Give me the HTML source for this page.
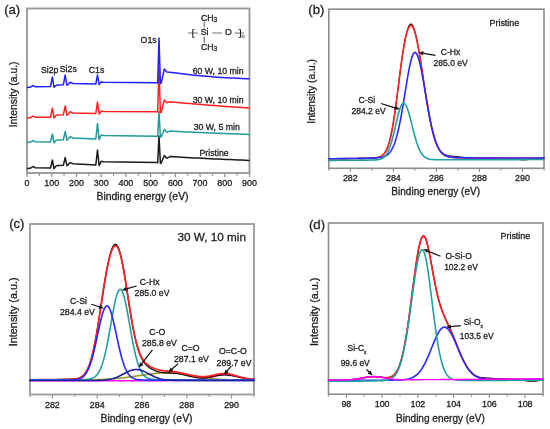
<!DOCTYPE html>
<html><head><meta charset="utf-8"><style>
html,body{margin:0;padding:0;background:#fff;width:550px;height:429px;overflow:hidden}
svg{display:block;will-change:transform}
text{font-family:"Liberation Sans", sans-serif}
</style></head><body>
<svg width="550" height="429" viewBox="0 0 550 429">
<rect width="550" height="429" fill="#fff"/>
<rect x="27" y="8.5" width="222.5" height="164.5" fill="none" stroke="#9a9a9a" stroke-width="1.9"/>
<path d="M27 174 V177" stroke="#8a8a8a" stroke-width="1.2"/>
<path d="M51.72 174 V177" stroke="#8a8a8a" stroke-width="1.2"/>
<path d="M76.44 174 V177" stroke="#8a8a8a" stroke-width="1.2"/>
<path d="M101.17 174 V177" stroke="#8a8a8a" stroke-width="1.2"/>
<path d="M125.89 174 V177" stroke="#8a8a8a" stroke-width="1.2"/>
<path d="M150.61 174 V177" stroke="#8a8a8a" stroke-width="1.2"/>
<path d="M175.33 174 V177" stroke="#8a8a8a" stroke-width="1.2"/>
<path d="M200.06 174 V177" stroke="#8a8a8a" stroke-width="1.2"/>
<path d="M224.78 174 V177" stroke="#8a8a8a" stroke-width="1.2"/>
<path d="M249.5 174 V177" stroke="#8a8a8a" stroke-width="1.2"/>
<path d="M39.36 174 V175.8" stroke="#8a8a8a" stroke-width="1.2"/>
<path d="M64.08 174 V175.8" stroke="#8a8a8a" stroke-width="1.2"/>
<path d="M88.81 174 V175.8" stroke="#8a8a8a" stroke-width="1.2"/>
<path d="M113.53 174 V175.8" stroke="#8a8a8a" stroke-width="1.2"/>
<path d="M138.25 174 V175.8" stroke="#8a8a8a" stroke-width="1.2"/>
<path d="M162.97 174 V175.8" stroke="#8a8a8a" stroke-width="1.2"/>
<path d="M187.69 174 V175.8" stroke="#8a8a8a" stroke-width="1.2"/>
<path d="M212.42 174 V175.8" stroke="#8a8a8a" stroke-width="1.2"/>
<path d="M237.14 174 V175.8" stroke="#8a8a8a" stroke-width="1.2"/>
<text x="27" y="186.3" font-size="8.92" text-anchor="middle" fill="#1e1e1e" stroke="#1e1e1e" stroke-width="0.3">0</text>
<text x="51.72" y="186.3" font-size="8.92" text-anchor="middle" fill="#1e1e1e" stroke="#1e1e1e" stroke-width="0.3">100</text>
<text x="76.44" y="186.3" font-size="8.92" text-anchor="middle" fill="#1e1e1e" stroke="#1e1e1e" stroke-width="0.3">200</text>
<text x="101.17" y="186.3" font-size="8.92" text-anchor="middle" fill="#1e1e1e" stroke="#1e1e1e" stroke-width="0.3">300</text>
<text x="125.89" y="186.3" font-size="8.92" text-anchor="middle" fill="#1e1e1e" stroke="#1e1e1e" stroke-width="0.3">400</text>
<text x="150.61" y="186.3" font-size="8.92" text-anchor="middle" fill="#1e1e1e" stroke="#1e1e1e" stroke-width="0.3">500</text>
<text x="175.33" y="186.3" font-size="8.92" text-anchor="middle" fill="#1e1e1e" stroke="#1e1e1e" stroke-width="0.3">600</text>
<text x="200.06" y="186.3" font-size="8.92" text-anchor="middle" fill="#1e1e1e" stroke="#1e1e1e" stroke-width="0.3">700</text>
<text x="224.78" y="186.3" font-size="8.92" text-anchor="middle" fill="#1e1e1e" stroke="#1e1e1e" stroke-width="0.3">800</text>
<text x="249.5" y="186.3" font-size="8.92" text-anchor="middle" fill="#1e1e1e" stroke="#1e1e1e" stroke-width="0.3">900</text>
<text x="142.5" y="199.5" font-size="10.43" text-anchor="middle" fill="#1e1e1e" stroke="#1e1e1e" stroke-width="0.3">Binding energy (eV)</text>
<text transform="translate(16.6 94.4) rotate(-90)" font-size="10.4" text-anchor="middle" fill="#1e1e1e" stroke="#1e1e1e" stroke-width="0.3">Intensity (a.u.)</text>
<text x="4.2" y="14" font-size="13.09" text-anchor="start" fill="#1e1e1e" stroke="#1e1e1e" stroke-width="0.3">(a)</text>
<path d="M27.5 168.5 L31 167.9 L33 166.5 L35 167.7 L50.5 168 L52.4 160 L54 168.8 L55.8 166.1 L57.5 165.5 L63.4 165.2 L65.2 157.5 L66.9 165.7 L68.3 164.6 L70.2 162.6 L73 163.8 L95.8 165 L97.5 150 L99.1 165.6 L101.2 161.3 L103.5 161.7 L156.8 162.5 L157.7 162.7 L159 136 L160.4 163.4 L161.2 163 L164.3 155.5 L166.8 158.3 L170 156.6 L174 156.83 L178 157.06 L182 157.28 L186 157.5 L190 157.71 L194 157.92 L198 158.12 L202 158.32 L206 158.52 L210 158.71 L214 158.9 L218 159.08 L222 159.27 L226 159.44 L230 159.62 L234 159.79 L238 159.96 L242 160.12 L246 160.28 L249 160.4" fill="none" stroke="#1a1a1a" stroke-width="1.5" stroke-linejoin="round" stroke-linecap="round"/>
<path d="M27.5 142.5 L31 141.9 L33 140.5 L35 141.7 L50.5 142 L52.4 134 L54 142.8 L55.8 140.6 L57.5 140 L63.4 139.7 L65.2 131.5 L66.9 140.2 L68.3 138.8 L70.2 136.8 L73 138 L95.8 139 L97.5 123.5 L99.1 139.6 L101.2 135.1 L103.5 135.5 L156.8 136.3 L157.7 136.5 L159 111 L160.4 137.2 L161.2 136.8 L164.3 129.5 L166.8 132.3 L170 131.1 L174 131.3 L178 131.5 L182 131.69 L186 131.88 L190 132.06 L194 132.24 L198 132.42 L202 132.6 L206 132.77 L210 132.93 L214 133.1 L218 133.26 L222 133.42 L226 133.57 L230 133.72 L234 133.87 L238 134.01 L242 134.16 L246 134.3 L249 134.4" fill="none" stroke="#1f9a9a" stroke-width="1.5" stroke-linejoin="round" stroke-linecap="round"/>
<path d="M27.5 118 L31 117.4 L33 116 L35 117.2 L50.5 117.2 L52.4 108.2 L54 118 L55.8 115.6 L57.5 115 L63.4 114.7 L65.2 106 L66.9 115.2 L68.3 113.8 L70.2 111.8 L73 113 L95.8 113.5 L97.5 102 L99.1 114.1 L101.2 111.1 L103.5 111.5 L156.8 111.8 L157.7 112 L159 67.8 L160.4 112.7 L161.2 112.3 L164.3 99.9 L166.8 102.7 L170 101.8 L174 102.18 L178 102.54 L182 102.91 L186 103.26 L190 103.61 L194 103.95 L198 104.28 L202 104.61 L206 104.93 L210 105.24 L214 105.55 L218 105.85 L222 106.15 L226 106.44 L230 106.72 L234 107 L238 107.28 L242 107.54 L246 107.81 L249 108" fill="none" stroke="#ff2020" stroke-width="1.5" stroke-linejoin="round" stroke-linecap="round"/>
<path d="M27.5 87.5 L31 86.9 L33 85.5 L35 86.7 L50.5 86.5 L52.4 77 L54 87.3 L55.8 85.6 L57.5 85 L63.4 84.7 L65.2 75 L66.9 85.2 L68.3 84.3 L70.2 82.3 L73 83.5 L95.8 84 L97.5 75 L99.1 84.6 L101.2 81.9 L103.5 82.3 L156.8 82.7 L157.7 82.9 L159 38 L160.4 83.6 L161.2 83.2 L164.3 69.1 L166.8 71.9 L170 72.2 L174 72.78 L178 73.33 L182 73.83 L186 74.31 L190 74.76 L194 75.17 L198 75.56 L202 75.93 L206 76.27 L210 76.59 L214 76.89 L218 77.17 L222 77.43 L226 77.67 L230 77.9 L234 78.11 L238 78.31 L242 78.5 L246 78.68 L249 78.8" fill="none" stroke="#2020ff" stroke-width="1.5" stroke-linejoin="round" stroke-linecap="round"/>
<text x="41" y="72.8" font-size="8.73" text-anchor="start" fill="#1e1e1e" stroke="#1e1e1e" stroke-width="0.3">Si2p</text>
<text x="59.8" y="71.5" font-size="8.73" text-anchor="start" fill="#1e1e1e" stroke="#1e1e1e" stroke-width="0.3">Si2s</text>
<text x="88.8" y="73" font-size="8.73" text-anchor="start" fill="#1e1e1e" stroke="#1e1e1e" stroke-width="0.3">C1s</text>
<text x="140.6" y="43" font-size="8.73" text-anchor="start" fill="#1e1e1e" stroke="#1e1e1e" stroke-width="0.3">O1s</text>
<text x="243.6" y="73.7" font-size="8.73" text-anchor="end" fill="#1e1e1e" stroke="#1e1e1e" stroke-width="0.3">60 W, 10 min</text>
<text x="243.6" y="102.9" font-size="8.73" text-anchor="end" fill="#1e1e1e" stroke="#1e1e1e" stroke-width="0.3">30 W, 10 min</text>
<text x="239.8" y="130" font-size="8.73" text-anchor="end" fill="#1e1e1e" stroke="#1e1e1e" stroke-width="0.3">30 W, 5 min</text>
<text x="228.6" y="156.4" font-size="8.73" text-anchor="end" fill="#1e1e1e" stroke="#1e1e1e" stroke-width="0.3">Pristine</text>
<text x="201" y="20.8" font-size="8.73" text-anchor="start" fill="#1e1e1e" stroke="#1e1e1e" stroke-width="0.3">CH<tspan font-size="6.5" dy="1.6">3</tspan></text>
<text x="200.8" y="35.3" font-size="8.73" text-anchor="start" fill="#1e1e1e" stroke="#1e1e1e" stroke-width="0.3">Si</text>
<text x="224.9" y="35.4" font-size="8.73" text-anchor="start" fill="#1e1e1e" stroke="#1e1e1e" stroke-width="0.3">O</text>
<text x="201" y="49.6" font-size="8.73" text-anchor="start" fill="#1e1e1e" stroke="#1e1e1e" stroke-width="0.3">CH<tspan font-size="6.5" dy="1.6">3</tspan></text>
<path d="M204.2 21.8 V27.6 M204.2 36.8 V42.8 M212.3 33 H221.9 M188 33 H197.8 M234.7 33 H244" stroke="#707070" stroke-width="1.2" fill="none"/>
<path d="M194.4 29.6 H192.7 V37.4 H194.4 M238.8 29.6 H240.5 V37.4 H238.8" stroke="#222" stroke-width="1.0" fill="none"/>
<text x="241.6" y="37.6" font-size="5.63" text-anchor="start" fill="#777" stroke="#777" stroke-width="0.3">n</text>
<rect x="328.8" y="9.2" width="215.2" height="159.1" fill="none" stroke="#8c8c8c" stroke-width="1.6"/>
<path d="M350.32 168.8 V171.8" stroke="#8a8a8a" stroke-width="1.1"/>
<path d="M393.36 168.8 V171.8" stroke="#8a8a8a" stroke-width="1.1"/>
<path d="M436.4 168.8 V171.8" stroke="#8a8a8a" stroke-width="1.1"/>
<path d="M479.44 168.8 V171.8" stroke="#8a8a8a" stroke-width="1.1"/>
<path d="M522.48 168.8 V171.8" stroke="#8a8a8a" stroke-width="1.1"/>
<path d="M328.8 168.8 V170.6" stroke="#8a8a8a" stroke-width="1.1"/>
<path d="M371.84 168.8 V170.6" stroke="#8a8a8a" stroke-width="1.1"/>
<path d="M414.88 168.8 V170.6" stroke="#8a8a8a" stroke-width="1.1"/>
<path d="M457.92 168.8 V170.6" stroke="#8a8a8a" stroke-width="1.1"/>
<path d="M500.96 168.8 V170.6" stroke="#8a8a8a" stroke-width="1.1"/>
<path d="M544 168.8 V170.6" stroke="#8a8a8a" stroke-width="1.1"/>
<text x="350.32" y="180.5" font-size="8.92" text-anchor="middle" fill="#1e1e1e" stroke="#1e1e1e" stroke-width="0.3">282</text>
<text x="393.36" y="180.5" font-size="8.92" text-anchor="middle" fill="#1e1e1e" stroke="#1e1e1e" stroke-width="0.3">284</text>
<text x="436.4" y="180.5" font-size="8.92" text-anchor="middle" fill="#1e1e1e" stroke="#1e1e1e" stroke-width="0.3">286</text>
<text x="479.44" y="180.5" font-size="8.92" text-anchor="middle" fill="#1e1e1e" stroke="#1e1e1e" stroke-width="0.3">288</text>
<text x="522.48" y="180.5" font-size="8.92" text-anchor="middle" fill="#1e1e1e" stroke="#1e1e1e" stroke-width="0.3">290</text>
<text x="435.7" y="194.5" font-size="10.04" text-anchor="middle" fill="#1e1e1e" stroke="#1e1e1e" stroke-width="0.3">Binding energy (eV)</text>
<text transform="translate(315.4 91.4) rotate(-90)" font-size="10.2" text-anchor="middle" fill="#1e1e1e" stroke="#1e1e1e" stroke-width="0.3">Intensity (a.u.)</text>
<text x="308.3" y="13.8" font-size="13.09" text-anchor="start" fill="#1e1e1e" stroke="#1e1e1e" stroke-width="0.3">(b)</text>
<path d="M328.8 158.81 L329.8 158.8 L330.8 158.79 L331.8 158.78 L332.8 158.77 L333.8 158.76 L334.8 158.75 L335.8 158.74 L336.8 158.73 L337.8 158.72 L338.8 158.71 L339.8 158.7 L340.8 158.69 L341.8 158.68 L342.8 158.67 L343.8 158.66 L344.8 158.64 L345.8 158.63 L346.8 158.62 L347.8 158.6 L348.8 158.59 L349.8 158.58 L350.8 158.56 L351.8 158.55 L352.8 158.53 L353.8 158.51 L354.8 158.5 L355.8 158.48 L356.8 158.46 L357.8 158.44 L358.8 158.42 L359.8 158.4 L360.8 158.38 L361.8 158.36 L362.8 158.33 L363.8 158.31 L364.8 158.28 L365.8 158.25 L366.8 158.22 L367.8 158.19 L368.8 158.15 L369.8 158.12 L370.8 158.07 L371.8 158.02 L372.8 157.96 L373.8 157.89 L374.8 157.81 L375.8 157.7 L376.8 157.56 L377.8 157.37 L378.8 157.12 L379.8 156.79 L380.8 156.36 L381.8 155.78 L382.8 155.02 L383.8 154.04 L384.8 152.78 L385.8 151.19 L386.8 149.19 L387.8 146.74 L388.8 143.76 L389.8 140.2 L390.8 136.03 L391.8 131.22 L392.8 125.76 L393.8 119.68 L394.8 113.02 L395.8 105.85 L396.8 98.3 L397.8 90.47 L398.8 82.53 L399.8 74.63 L400.8 66.94 L401.8 59.62 L402.8 52.8 L403.8 46.61 L404.8 41.04 L405.8 36.13 L406.8 31.96 L407.8 28.59 L408.8 26.09 L409.8 24.51 L410.8 23.9 L411.8 24.26 L412.8 25.59 L413.8 27.85 L414.8 30.99 L415.8 34.91 L416.8 39.47 L417.8 44.59 L418.8 50.17 L419.8 56.12 L420.8 62.38 L421.8 68.84 L422.8 75.43 L423.8 82.06 L424.8 88.65 L425.8 95.12 L426.8 101.39 L427.8 107.41 L428.8 113.12 L429.8 118.48 L430.8 123.44 L431.8 128 L432.8 132.14 L433.8 135.85 L434.8 139.14 L435.8 142.03 L436.8 144.55 L437.8 146.7 L438.8 148.53 L439.8 150.07 L440.8 151.35 L441.8 152.39 L442.8 153.24 L443.8 153.92 L444.8 154.46 L445.8 154.89 L446.8 155.22 L447.8 155.48 L448.8 155.69 L449.8 155.85 L450.8 155.99 L451.8 156.11 L452.8 156.22 L453.8 156.32 L454.8 156.42 L455.8 156.53 L456.8 156.63 L457.8 156.74 L458.8 156.84 L459.8 156.95 L460.8 157.06 L461.8 157.16 L462.8 157.26 L463.8 157.36 L464.8 157.45 L465.8 157.53 L466.8 157.6 L467.8 157.67 L468.8 157.73 L469.8 157.78 L470.8 157.83 L471.8 157.87 L472.8 157.9 L473.8 157.93 L474.8 157.95 L475.8 157.97 L476.8 157.99 L477.8 158 L478.8 158.01 L479.8 158.02 L480.8 158.03 L481.8 158.04 L482.8 158.05 L483.8 158.05 L484.8 158.06 L485.8 158.06 L486.8 158.06 L487.8 158.07 L488.8 158.07 L489.8 158.07 L490.8 158.08 L491.8 158.08 L492.8 158.08 L493.8 158.08 L494.8 158.08 L495.8 158.08 L496.8 158.08 L497.8 158.09 L498.8 158.09 L499.8 158.09 L500.8 158.09 L501.8 158.1 L502.8 158.1 L503.8 158.11 L504.8 158.13 L505.8 158.15 L506.8 158.17 L507.8 158.21 L508.8 158.25 L509.8 158.31 L510.8 158.39 L511.8 158.47 L512.8 158.58 L513.8 158.7 L514.8 158.84 L515.8 158.98 L516.8 159.13 L517.8 159.29 L518.8 159.44 L519.8 159.57 L520.8 159.69 L521.8 159.78 L522.8 159.84 L523.8 159.86 L524.8 159.85 L525.8 159.8 L526.8 159.72 L527.8 159.61 L528.8 159.47 L529.8 159.33 L530.8 159.17 L531.8 159.01 L532.8 158.86 L533.8 158.71 L534.8 158.58 L535.8 158.47 L536.8 158.37 L537.8 158.29 L538.8 158.22 L539.8 158.16 L540.8 158.12 L541.8 158.09 L542.8 158.06 L543.8 158.05 L544 158.04" fill="none" stroke="#111" stroke-width="1.1" stroke-linejoin="round" stroke-linecap="round"/>
<path d="M328.8 158.81 L329.8 158.8 L330.8 158.79 L331.8 158.78 L332.8 158.77 L333.8 158.76 L334.8 158.75 L335.8 158.74 L336.8 158.73 L337.8 158.72 L338.8 158.71 L339.8 158.7 L340.8 158.69 L341.8 158.68 L342.8 158.67 L343.8 158.66 L344.8 158.64 L345.8 158.63 L346.8 158.62 L347.8 158.6 L348.8 158.59 L349.8 158.58 L350.8 158.56 L351.8 158.55 L352.8 158.53 L353.8 158.51 L354.8 158.5 L355.8 158.48 L356.8 158.46 L357.8 158.44 L358.8 158.42 L359.8 158.4 L360.8 158.38 L361.8 158.36 L362.8 158.33 L363.8 158.31 L364.8 158.28 L365.8 158.25 L366.8 158.22 L367.8 158.19 L368.8 158.15 L369.8 158.12 L370.8 158.07 L371.8 158.02 L372.8 157.96 L373.8 157.89 L374.8 157.81 L375.8 157.7 L376.8 157.56 L377.8 157.37 L378.8 157.12 L379.8 156.79 L380.8 156.36 L381.8 155.78 L382.8 155.02 L383.8 154.04 L384.8 152.78 L385.8 151.19 L386.8 149.19 L387.8 146.74 L388.8 143.76 L389.8 140.2 L390.8 136.03 L391.8 131.22 L392.8 125.76 L393.8 119.68 L394.8 113.02 L395.8 105.86 L396.8 98.3 L397.8 90.48 L398.8 82.55 L399.8 74.67 L400.8 67.01 L401.8 59.73 L402.8 53 L403.8 46.93 L404.8 41.52 L405.8 36.82 L406.8 32.88 L407.8 29.75 L408.8 27.47 L409.8 26.04 L410.8 25.49 L411.8 25.82 L412.8 27.03 L413.8 29.1 L414.8 32.01 L415.8 35.69 L416.8 40.03 L417.8 44.96 L418.8 50.41 L419.8 56.27 L420.8 62.46 L421.8 68.89 L422.8 75.46 L423.8 82.08 L424.8 88.67 L425.8 95.13 L426.8 101.42 L427.8 107.44 L428.8 113.16 L429.8 118.53 L430.8 123.52 L431.8 128.1 L432.8 132.26 L433.8 136 L434.8 139.34 L435.8 142.27 L436.8 144.83 L437.8 147.05 L438.8 148.94 L439.8 150.55 L440.8 151.9 L441.8 153.02 L442.8 153.95 L443.8 154.71 L444.8 155.33 L445.8 155.83 L446.8 156.23 L447.8 156.56 L448.8 156.81 L449.8 157.02 L450.8 157.18 L451.8 157.31 L452.8 157.42 L453.8 157.5 L454.8 157.57 L455.8 157.62 L456.8 157.67 L457.8 157.71 L458.8 157.75 L459.8 157.78 L460.8 157.8 L461.8 157.83 L462.8 157.85 L463.8 157.87 L464.8 157.88 L465.8 157.9 L466.8 157.91 L467.8 157.93 L468.8 157.94 L469.8 157.95 L470.8 157.96 L471.8 157.97 L472.8 157.98 L473.8 157.99 L474.8 158 L475.8 158.01 L476.8 158.02 L477.8 158.02 L478.8 158.03 L479.8 158.03 L480.8 158.04 L481.8 158.05 L482.8 158.05 L483.8 158.05 L484.8 158.06 L485.8 158.06 L486.8 158.06 L487.8 158.07 L488.8 158.07 L489.8 158.07 L490.8 158.08 L491.8 158.08 L492.8 158.08 L493.8 158.08 L494.8 158.08 L495.8 158.08 L496.8 158.08 L497.8 158.08 L498.8 158.09 L499.8 158.09 L500.8 158.09 L501.8 158.09 L502.8 158.09 L503.8 158.09 L504.8 158.09 L505.8 158.09 L506.8 158.08 L507.8 158.08 L508.8 158.08 L509.8 158.08 L510.8 158.08 L511.8 158.08 L512.8 158.08 L513.8 158.08 L514.8 158.08 L515.8 158.08 L516.8 158.07 L517.8 158.07 L518.8 158.07 L519.8 158.07 L520.8 158.07 L521.8 158.07 L522.8 158.06 L523.8 158.06 L524.8 158.06 L525.8 158.06 L526.8 158.06 L527.8 158.05 L528.8 158.05 L529.8 158.05 L530.8 158.05 L531.8 158.04 L532.8 158.04 L533.8 158.04 L534.8 158.04 L535.8 158.03 L536.8 158.03 L537.8 158.03 L538.8 158.03 L539.8 158.02 L540.8 158.02 L541.8 158.02 L542.8 158.02 L543.8 158.01 L544 158.01" fill="none" stroke="#ff2020" stroke-width="1.6" stroke-linejoin="round" stroke-linecap="round"/>
<path d="M328.8 158.74 L329.8 158.73 L330.8 158.72 L331.8 158.71 L332.8 158.71 L333.8 158.7 L334.8 158.69 L335.8 158.68 L336.8 158.67 L337.8 158.66 L338.8 158.65 L339.8 158.64 L340.8 158.63 L341.8 158.62 L342.8 158.61 L343.8 158.6 L344.8 158.59 L345.8 158.58 L346.8 158.57 L347.8 158.56 L348.8 158.55 L349.8 158.53 L350.8 158.52 L351.8 158.51 L352.8 158.49 L353.8 158.48 L354.8 158.47 L355.8 158.45 L356.8 158.44 L357.8 158.42 L358.8 158.4 L359.8 158.39 L360.8 158.37 L361.8 158.35 L362.8 158.33 L363.8 158.31 L364.8 158.29 L365.8 158.27 L366.8 158.24 L367.8 158.22 L368.8 158.19 L369.8 158.16 L370.8 158.13 L371.8 158.1 L372.8 158.06 L373.8 158.02 L374.8 157.97 L375.8 157.91 L376.8 157.85 L377.8 157.77 L378.8 157.67 L379.8 157.55 L380.8 157.4 L381.8 157.21 L382.8 156.97 L383.8 156.67 L384.8 156.29 L385.8 155.81 L386.8 155.21 L387.8 154.48 L388.8 153.57 L389.8 152.45 L390.8 151.11 L391.8 149.49 L392.8 147.56 L393.8 145.3 L394.8 142.66 L395.8 139.62 L396.8 136.15 L397.8 132.25 L398.8 127.91 L399.8 123.15 L400.8 117.98 L401.8 112.46 L402.8 106.63 L403.8 100.57 L404.8 94.39 L405.8 88.17 L406.8 82.05 L407.8 76.16 L408.8 70.63 L409.8 65.61 L410.8 61.22 L411.8 57.61 L412.8 54.87 L413.8 53.1 L414.8 52.36 L415.8 52.65 L416.8 53.9 L417.8 56.08 L418.8 59.13 L419.8 62.94 L420.8 67.41 L421.8 72.43 L422.8 77.87 L423.8 83.6 L424.8 89.52 L425.8 95.49 L426.8 101.42 L427.8 107.22 L428.8 112.79 L429.8 118.08 L430.8 123.04 L431.8 127.62 L432.8 131.81 L433.8 135.59 L434.8 138.97 L435.8 141.95 L436.8 144.56 L437.8 146.82 L438.8 148.75 L439.8 150.39 L440.8 151.77 L441.8 152.92 L442.8 153.86 L443.8 154.64 L444.8 155.27 L445.8 155.78 L446.8 156.19 L447.8 156.51 L448.8 156.77 L449.8 156.98 L450.8 157.14 L451.8 157.27 L452.8 157.38 L453.8 157.46 L454.8 157.53 L455.8 157.58 L456.8 157.63 L457.8 157.67 L458.8 157.7 L459.8 157.73 L460.8 157.75 L461.8 157.77 L462.8 157.79 L463.8 157.81 L464.8 157.83 L465.8 157.84 L466.8 157.86 L467.8 157.87 L468.8 157.88 L469.8 157.89 L470.8 157.9 L471.8 157.91 L472.8 157.92 L473.8 157.93 L474.8 157.93 L475.8 157.94 L476.8 157.95 L477.8 157.95 L478.8 157.96 L479.8 157.96 L480.8 157.97 L481.8 157.97 L482.8 157.98 L483.8 157.98 L484.8 157.98 L485.8 157.99 L486.8 157.99 L487.8 157.99 L488.8 157.99 L489.8 158 L490.8 158 L491.8 158 L492.8 158 L493.8 158 L494.8 158 L495.8 158 L496.8 158 L497.8 158 L498.8 158 L499.8 158 L500.8 158 L501.8 158 L502.8 158 L503.8 158 L504.8 158 L505.8 158 L506.8 158 L507.8 158 L508.8 158 L509.8 158 L510.8 158 L511.8 158 L512.8 157.99 L513.8 157.99 L514.8 157.99 L515.8 157.99 L516.8 157.99 L517.8 157.99 L518.8 157.98 L519.8 157.98 L520.8 157.98 L521.8 157.98 L522.8 157.98 L523.8 157.97 L524.8 157.97 L525.8 157.97 L526.8 157.97 L527.8 157.97 L528.8 157.96 L529.8 157.96 L530.8 157.96 L531.8 157.96 L532.8 157.95 L533.8 157.95 L534.8 157.95 L535.8 157.94 L536.8 157.94 L537.8 157.94 L538.8 157.94 L539.8 157.93 L540.8 157.93 L541.8 157.93 L542.8 157.92 L543.8 157.92 L544 157.92" fill="none" stroke="#2a2aff" stroke-width="1.6" stroke-linejoin="round" stroke-linecap="round"/>
<path d="M328.8 160.37 L329.8 160.36 L330.8 160.35 L331.8 160.35 L332.8 160.34 L333.8 160.34 L334.8 160.33 L335.8 160.33 L336.8 160.32 L337.8 160.32 L338.8 160.31 L339.8 160.31 L340.8 160.3 L341.8 160.29 L342.8 160.29 L343.8 160.28 L344.8 160.28 L345.8 160.27 L346.8 160.26 L347.8 160.26 L348.8 160.25 L349.8 160.25 L350.8 160.24 L351.8 160.23 L352.8 160.23 L353.8 160.22 L354.8 160.21 L355.8 160.2 L356.8 160.2 L357.8 160.19 L358.8 160.18 L359.8 160.17 L360.8 160.16 L361.8 160.15 L362.8 160.14 L363.8 160.13 L364.8 160.12 L365.8 160.11 L366.8 160.1 L367.8 160.09 L368.8 160.08 L369.8 160.06 L370.8 160.04 L371.8 160.02 L372.8 160 L373.8 159.96 L374.8 159.92 L375.8 159.86 L376.8 159.77 L377.8 159.66 L378.8 159.5 L379.8 159.27 L380.8 158.97 L381.8 158.57 L382.8 158.02 L383.8 157.31 L384.8 156.39 L385.8 155.22 L386.8 153.76 L387.8 151.97 L388.8 149.81 L389.8 147.26 L390.8 144.31 L391.8 140.98 L392.8 137.28 L393.8 133.29 L394.8 129.07 L395.8 124.74 L396.8 120.42 L397.8 116.27 L398.8 112.45 L399.8 109.1 L400.8 106.38 L401.8 104.42 L402.8 103.32 L403.8 103.12 L404.8 103.74 L405.8 105.11 L406.8 107.18 L407.8 109.85 L408.8 113.02 L409.8 116.58 L410.8 120.39 L411.8 124.34 L412.8 128.32 L413.8 132.21 L414.8 135.94 L415.8 139.44 L416.8 142.65 L417.8 145.53 L418.8 148.09 L419.8 150.3 L420.8 152.2 L421.8 153.79 L422.8 155.1 L423.8 156.17 L424.8 157.03 L425.8 157.71 L426.8 158.23 L427.8 158.64 L428.8 158.94 L429.8 159.17 L430.8 159.34 L431.8 159.47 L432.8 159.56 L433.8 159.62 L434.8 159.67 L435.8 159.7 L436.8 159.72 L437.8 159.74 L438.8 159.75 L439.8 159.76 L440.8 159.77 L441.8 159.78 L442.8 159.78 L443.8 159.78 L444.8 159.79 L445.8 159.79 L446.8 159.79 L447.8 159.79 L448.8 159.79 L449.8 159.79 L450.8 159.79 L451.8 159.79 L452.8 159.79 L453.8 159.79 L454.8 159.79 L455.8 159.79 L456.8 159.79 L457.8 159.78 L458.8 159.78 L459.8 159.78 L460.8 159.78 L461.8 159.78 L462.8 159.77 L463.8 159.77 L464.8 159.77 L465.8 159.77 L466.8 159.77 L467.8 159.76 L468.8 159.76 L469.8 159.76 L470.8 159.76 L471.8 159.75 L472.8 159.75 L473.8 159.75 L474.8 159.74 L475.8 159.74 L476.8 159.74 L477.8 159.74 L478.8 159.73 L479.8 159.73 L480.8 159.73 L481.8 159.72 L482.8 159.72 L483.8 159.72 L484.8 159.71 L485.8 159.71 L486.8 159.71 L487.8 159.7 L488.8 159.7 L489.8 159.7 L490.8 159.69 L491.8 159.69 L492.8 159.69 L493.8 159.68 L494.8 159.68 L495.8 159.67 L496.8 159.67 L497.8 159.67 L498.8 159.66 L499.8 159.66 L500.8 159.66 L501.8 159.65 L502.8 159.65 L503.8 159.65 L504.8 159.64 L505.8 159.64 L506.8 159.63 L507.8 159.63 L508.8 159.63 L509.8 159.62 L510.8 159.62 L511.8 159.61 L512.8 159.61 L513.8 159.61 L514.8 159.6 L515.8 159.6 L516.8 159.6 L517.8 159.59 L518.8 159.59 L519.8 159.58 L520.8 159.58 L521.8 159.58 L522.8 159.57 L523.8 159.57 L524.8 159.56 L525.8 159.56 L526.8 159.56 L527.8 159.55 L528.8 159.55 L529.8 159.54 L530.8 159.54 L531.8 159.54 L532.8 159.53 L533.8 159.53 L534.8 159.52 L535.8 159.52 L536.8 159.52 L537.8 159.51 L538.8 159.51 L539.8 159.51 L540.8 159.5 L541.8 159.5 L542.8 159.49 L543.8 159.49 L544 159.49" fill="none" stroke="#20a0a0" stroke-width="1.6" stroke-linejoin="round" stroke-linecap="round"/>
<text x="489.5" y="25.6" font-size="8.92" text-anchor="start" fill="#1e1e1e" stroke="#1e1e1e" stroke-width="0.3">Pristine</text>
<text x="440.8" y="55" font-size="8.54" text-anchor="start" fill="#1e1e1e" stroke="#1e1e1e" stroke-width="0.3">C-Hx</text>
<text x="433.6" y="65.9" font-size="8.54" text-anchor="start" fill="#1e1e1e" stroke="#1e1e1e" stroke-width="0.3">285.0 eV</text>
<text x="358.5" y="103" font-size="8.54" text-anchor="start" fill="#1e1e1e" stroke="#1e1e1e" stroke-width="0.3">C-Si</text>
<text x="351.5" y="113.5" font-size="8.54" text-anchor="start" fill="#1e1e1e" stroke="#1e1e1e" stroke-width="0.3">284.2 eV</text>
<path d="M381 103.5 L395.02 107.83" stroke="#111" stroke-width="1.2" fill="none"/>
<path d="M399.8 109.3 L394.4 109.83 L395.64 105.82 Z" fill="#111"/>
<path d="M435.5 55.3 L423.44 53.38" stroke="#111" stroke-width="1.2" fill="none"/>
<path d="M418.5 52.6 L423.77 51.31 L423.11 55.46 Z" fill="#111"/>
<rect x="30" y="224" width="224" height="170.5" fill="none" stroke="#9a9a9a" stroke-width="1.8"/>
<path d="M52.4 395.3 V398.5" stroke="#8a8a8a" stroke-width="1.1"/>
<path d="M97.2 395.3 V398.5" stroke="#8a8a8a" stroke-width="1.1"/>
<path d="M142 395.3 V398.5" stroke="#8a8a8a" stroke-width="1.1"/>
<path d="M186.8 395.3 V398.5" stroke="#8a8a8a" stroke-width="1.1"/>
<path d="M231.6 395.3 V398.5" stroke="#8a8a8a" stroke-width="1.1"/>
<path d="M30 395.3 V397.1" stroke="#8a8a8a" stroke-width="1.1"/>
<path d="M74.8 395.3 V397.1" stroke="#8a8a8a" stroke-width="1.1"/>
<path d="M119.6 395.3 V397.1" stroke="#8a8a8a" stroke-width="1.1"/>
<path d="M164.4 395.3 V397.1" stroke="#8a8a8a" stroke-width="1.1"/>
<path d="M209.2 395.3 V397.1" stroke="#8a8a8a" stroke-width="1.1"/>
<path d="M254 395.3 V397.1" stroke="#8a8a8a" stroke-width="1.1"/>
<text x="52.4" y="408.1" font-size="8.92" text-anchor="middle" fill="#1e1e1e" stroke="#1e1e1e" stroke-width="0.3">282</text>
<text x="97.2" y="408.1" font-size="8.92" text-anchor="middle" fill="#1e1e1e" stroke="#1e1e1e" stroke-width="0.3">284</text>
<text x="142" y="408.1" font-size="8.92" text-anchor="middle" fill="#1e1e1e" stroke="#1e1e1e" stroke-width="0.3">286</text>
<text x="186.8" y="408.1" font-size="8.92" text-anchor="middle" fill="#1e1e1e" stroke="#1e1e1e" stroke-width="0.3">288</text>
<text x="231.6" y="408.1" font-size="8.92" text-anchor="middle" fill="#1e1e1e" stroke="#1e1e1e" stroke-width="0.3">290</text>
<text x="146.5" y="422.3" font-size="10.43" text-anchor="middle" fill="#1e1e1e" stroke="#1e1e1e" stroke-width="0.3">Binding energy (eV)</text>
<text transform="translate(16.6 311.8) rotate(-90)" font-size="10.9" text-anchor="middle" fill="#1e1e1e" stroke="#1e1e1e" stroke-width="0.3">Intensity (a.u.)</text>
<text x="9.2" y="227.5" font-size="13.09" text-anchor="start" fill="#1e1e1e" stroke="#1e1e1e" stroke-width="0.3">(c)</text>
<path d="M30 380.8 L31 380.8 L32 380.8 L33 380.8 L34 380.8 L35 380.8 L36 380.8 L37 380.8 L38 380.8 L39 380.8 L40 380.8 L41 380.8 L42 380.8 L43 380.8 L44 380.8 L45 380.8 L46 380.8 L47 380.8 L48 380.8 L49 380.8 L50 380.8 L51 380.8 L52 380.8 L53 380.8 L54 380.8 L55 380.8 L56 380.8 L57 380.8 L58 380.8 L59 380.8 L60 380.8 L61 380.8 L62 380.8 L63 380.8 L64 380.8 L65 380.8 L66 380.8 L67 380.8 L68 380.8 L69 380.8 L70 380.8 L71 380.8 L72 380.8 L73 380.8 L74 380.8 L75 380.8 L76 380.8 L77 380.8 L78 380.8 L79 380.8 L80 380.8 L81 380.8 L82 380.8 L83 380.8 L84 380.8 L85 380.8 L86 380.8 L87 380.8 L88 380.8 L89 380.8 L90 380.8 L91 380.8 L92 380.8 L93 380.8 L94 380.8 L95 380.8 L96 380.8 L97 380.8 L98 380.8 L99 380.8 L100 380.8 L101 380.8 L102 380.8 L103 380.8 L104 380.8 L105 380.8 L106 380.8 L107 380.8 L108 380.8 L109 380.8 L110 380.8 L111 380.8 L112 380.8 L113 380.8 L114 380.8 L115 380.8 L116 380.8 L117 380.8 L118 380.8 L119 380.8 L120 380.8 L121 380.8 L122 380.8 L123 380.8 L124 380.8 L125 380.8 L126 380.8 L127 380.8 L128 380.8 L129 380.8 L130 380.8 L131 380.8 L132 380.8 L133 380.8 L134 380.8 L135 380.8 L136 380.8 L137 380.8 L138 380.8 L139 380.8 L140 380.8 L141 380.8 L142 380.8 L143 380.8 L144 380.8 L145 380.8 L146 380.8 L147 380.8 L148 380.8 L149 380.8 L150 380.8 L151 380.79 L152 380.77 L153 380.76 L154 380.75 L155 380.74 L156 380.72 L157 380.71 L158 380.7 L159 380.69 L160 380.67 L161 380.66 L162 380.65 L163 380.64 L164 380.62 L165 380.61 L166 380.6 L167 380.59 L168 380.57 L169 380.56 L170 380.55 L171 380.54 L172 380.52 L173 380.51 L174 380.5 L175 380.49 L176 380.47 L177 380.46 L178 380.45 L179 380.43 L180 380.42 L181 380.41 L182 380.39 L183 380.38 L184 380.36 L185 380.34 L186 380.32 L187 380.3 L188 380.28 L189 380.25 L190 380.22 L191 380.19 L192 380.15 L193 380.11 L194 380.06 L195 380 L196 379.93 L197 379.85 L198 379.77 L199 379.67 L200 379.55 L201 379.43 L202 379.28 L203 379.12 L204 378.95 L205 378.76 L206 378.55 L207 378.33 L208 378.09 L209 377.84 L210 377.57 L211 377.3 L212 377.02 L213 376.74 L214 376.46 L215 376.18 L216 375.91 L217 375.65 L218 375.41 L219 375.19 L220 375 L221 374.83 L222 374.7 L223 374.6 L224 374.54 L225 374.51 L226 374.52 L227 374.56 L228 374.65 L229 374.76 L230 374.91 L231 375.08 L232 375.28 L233 375.5 L234 375.73 L235 375.98 L236 376.23 L237 376.49 L238 376.75 L239 377 L240 377.25 L241 377.49 L242 377.71 L243 377.92 L244 378.12 L245 378.3 L246 378.46 L247 378.61 L248 378.74 L249 378.85 L250 378.95 L251 379.03 L252 379.11 L253 379.17 L254 379.22 L254 379.22" fill="none" stroke="#ff00ff" stroke-width="1.6" stroke-linejoin="round" stroke-linecap="round"/>
<path d="M30 380.1 L31 380.1 L32 380.1 L33 380.1 L34 380.1 L35 380.1 L36 380.1 L37 380.1 L38 380.1 L39 380.1 L40 380.1 L41 380.1 L42 380.1 L43 380.1 L44 380.1 L45 380.1 L46 380.1 L47 380.1 L48 380.1 L49 380.1 L50 380.1 L51 380.1 L52 380.1 L53 380.1 L54 380.1 L55 380.09 L56 380.09 L57 380.09 L58 380.09 L59 380.09 L60 380.09 L61 380.09 L62 380.09 L63 380.09 L64 380.08 L65 380.08 L66 380.08 L67 380.08 L68 380.07 L69 380.07 L70 380.07 L71 380.06 L72 380.06 L73 380.06 L74 380.05 L75 380.05 L76 380.04 L77 380.03 L78 380.03 L79 380.02 L80 380.01 L81 380 L82 379.99 L83 379.98 L84 379.97 L85 379.95 L86 379.94 L87 379.92 L88 379.91 L89 379.89 L90 379.87 L91 379.85 L92 379.83 L93 379.8 L94 379.78 L95 379.75 L96 379.72 L97 379.69 L98 379.65 L99 379.62 L100 379.58 L101 379.54 L102 379.49 L103 379.45 L104 379.4 L105 379.34 L106 379.29 L107 379.23 L108 379.17 L109 379.1 L110 379.04 L111 378.96 L112 378.89 L113 378.81 L114 378.73 L115 378.64 L116 378.55 L117 378.46 L118 378.36 L119 378.26 L120 378.16 L121 378.05 L122 377.94 L123 377.83 L124 377.71 L125 377.59 L126 377.47 L127 377.34 L128 377.21 L129 377.07 L130 376.94 L131 376.8 L132 376.66 L133 376.52 L134 376.37 L135 376.23 L136 376.08 L137 375.93 L138 375.78 L139 375.64 L140 375.49 L141 375.34 L142 375.19 L143 375.04 L144 374.9 L145 374.76 L146 374.61 L147 374.48 L148 374.34 L149 374.21 L150 374.08 L151 373.95 L152 373.83 L153 373.72 L154 373.6 L155 373.5 L156 373.4 L157 373.31 L158 373.22 L159 373.14 L160 373.06 L161 373 L162 372.94 L163 372.89 L164 372.84 L165 372.81 L166 372.78 L167 372.76 L168 372.74 L169 372.74 L170 372.75 L171 372.77 L172 372.8 L173 372.84 L174 372.9 L175 372.97 L176 373.05 L177 373.14 L178 373.24 L179 373.35 L180 373.47 L181 373.6 L182 373.74 L183 373.89 L184 374.05 L185 374.21 L186 374.37 L187 374.54 L188 374.72 L189 374.9 L190 375.08 L191 375.26 L192 375.45 L193 375.64 L194 375.82 L195 376.01 L196 376.19 L197 376.37 L198 376.55 L199 376.73 L200 376.9 L201 377.07 L202 377.24 L203 377.4 L204 377.56 L205 377.71 L206 377.86 L207 378 L208 378.13 L209 378.26 L210 378.39 L211 378.51 L212 378.62 L213 378.73 L214 378.83 L215 378.93 L216 379.02 L217 379.1 L218 379.18 L219 379.26 L220 379.33 L221 379.4 L222 379.46 L223 379.51 L224 379.57 L225 379.62 L226 379.66 L227 379.7 L228 379.74 L229 379.78 L230 379.81 L231 379.84 L232 379.87 L233 379.89 L234 379.91 L235 379.93 L236 379.95 L237 379.97 L238 379.98 L239 380 L240 380.01 L241 380.02 L242 380.03 L243 380.04 L244 380.04 L245 380.05 L246 380.06 L247 380.06 L248 380.07 L249 380.07 L250 380.08 L251 380.08 L252 380.08 L253 380.08 L254 380.09 L254 380.09" fill="none" stroke="#9a9a20" stroke-width="1.6" stroke-linejoin="round" stroke-linecap="round"/>
<path d="M30 379.75 L31 379.75 L32 379.75 L33 379.74 L34 379.74 L35 379.73 L36 379.73 L37 379.73 L38 379.72 L39 379.72 L40 379.71 L41 379.71 L42 379.7 L43 379.7 L44 379.69 L45 379.68 L46 379.68 L47 379.67 L48 379.66 L49 379.65 L50 379.65 L51 379.64 L52 379.63 L53 379.62 L54 379.61 L55 379.6 L56 379.59 L57 379.58 L58 379.56 L59 379.55 L60 379.54 L61 379.52 L62 379.51 L63 379.49 L64 379.47 L65 379.45 L66 379.43 L67 379.4 L68 379.37 L69 379.34 L70 379.3 L71 379.26 L72 379.2 L73 379.13 L74 379.04 L75 378.93 L76 378.78 L77 378.6 L78 378.36 L79 378.06 L80 377.67 L81 377.18 L82 376.55 L83 375.77 L84 374.8 L85 373.61 L86 372.17 L87 370.43 L88 368.37 L89 365.94 L90 363.12 L91 359.88 L92 356.21 L93 352.09 L94 347.52 L95 342.52 L96 337.12 L97 331.36 L98 325.27 L99 318.93 L100 312.41 L101 305.79 L102 299.14 L103 292.56 L104 286.13 L105 279.93 L106 274.04 L107 268.53 L108 263.46 L109 258.88 L110 254.85 L111 251.4 L112 248.58 L113 246.43 L114 244.99 L115 244.3 L116 244.38 L117 245.25 L118 246.91 L119 249.36 L120 252.57 L121 256.5 L122 261.09 L123 266.25 L124 271.91 L125 277.95 L126 284.27 L127 290.76 L128 297.32 L129 303.83 L130 310.21 L131 316.36 L132 322.22 L133 327.73 L134 332.84 L135 337.53 L136 341.78 L137 345.61 L138 349.01 L139 352.01 L140 354.65 L141 356.94 L142 358.94 L143 360.68 L144 362.18 L145 363.49 L146 364.64 L147 365.64 L148 366.53 L149 367.32 L150 368.02 L151 368.65 L152 369.22 L153 369.73 L154 370.19 L155 370.6 L156 370.97 L157 371.3 L158 371.6 L159 371.85 L160 372.08 L161 372.27 L162 372.43 L163 372.56 L164 372.68 L165 372.77 L166 372.84 L167 372.9 L168 372.94 L169 372.98 L170 373.01 L171 373.05 L172 373.1 L173 373.16 L174 373.23 L175 373.31 L176 373.41 L177 373.53 L178 373.66 L179 373.81 L180 373.97 L181 374.15 L182 374.34 L183 374.55 L184 374.77 L185 374.99 L186 375.23 L187 375.47 L188 375.72 L189 375.97 L190 376.21 L191 376.45 L192 376.69 L193 376.91 L194 377.12 L195 377.31 L196 377.48 L197 377.64 L198 377.76 L199 377.86 L200 377.93 L201 377.97 L202 377.98 L203 377.95 L204 377.9 L205 377.81 L206 377.69 L207 377.55 L208 377.38 L209 377.2 L210 376.99 L211 376.78 L212 376.55 L213 376.33 L214 376.11 L215 375.9 L216 375.7 L217 375.52 L218 375.35 L219 375.21 L220 375.1 L221 375.01 L222 374.95 L223 374.91 L224 374.9 L225 374.91 L226 374.95 L227 375 L228 375.08 L229 375.19 L230 375.31 L231 375.45 L232 375.6 L233 375.78 L234 375.97 L235 376.17 L236 376.38 L237 376.61 L238 376.84 L239 377.07 L240 377.31 L241 377.54 L242 377.77 L243 377.99 L244 378.2 L245 378.39 L246 378.58 L247 378.75 L248 378.9 L249 379.04 L250 379.16 L251 379.27 L252 379.37 L253 379.45 L254 379.52 L254 379.52" fill="none" stroke="#111" stroke-width="1.4" stroke-linejoin="round" stroke-linecap="round"/>
<path d="M30 379.75 L31 379.75 L32 379.75 L33 379.74 L34 379.74 L35 379.73 L36 379.73 L37 379.73 L38 379.72 L39 379.72 L40 379.71 L41 379.71 L42 379.7 L43 379.7 L44 379.69 L45 379.68 L46 379.68 L47 379.67 L48 379.66 L49 379.65 L50 379.65 L51 379.64 L52 379.63 L53 379.62 L54 379.61 L55 379.6 L56 379.59 L57 379.58 L58 379.56 L59 379.55 L60 379.54 L61 379.52 L62 379.51 L63 379.49 L64 379.47 L65 379.45 L66 379.43 L67 379.4 L68 379.37 L69 379.34 L70 379.3 L71 379.26 L72 379.2 L73 379.13 L74 379.04 L75 378.93 L76 378.78 L77 378.6 L78 378.36 L79 378.06 L80 377.67 L81 377.18 L82 376.55 L83 375.77 L84 374.8 L85 373.61 L86 372.17 L87 370.43 L88 368.37 L89 365.94 L90 363.12 L91 359.88 L92 356.21 L93 352.09 L94 347.52 L95 342.52 L96 337.12 L97 331.36 L98 325.28 L99 318.94 L100 312.43 L101 305.82 L102 299.2 L103 292.65 L104 286.28 L105 280.16 L106 274.37 L107 268.99 L108 264.08 L109 259.69 L110 255.84 L111 252.58 L112 249.93 L113 247.9 L114 246.54 L115 245.86 L116 245.89 L117 246.64 L118 248.15 L119 250.41 L120 253.41 L121 257.14 L122 261.53 L123 266.53 L124 272.04 L125 277.96 L126 284.19 L127 290.6 L128 297.1 L129 303.55 L130 309.88 L131 315.98 L132 321.79 L133 327.25 L134 332.31 L135 336.94 L136 341.13 L137 344.89 L138 348.23 L139 351.17 L140 353.73 L141 355.96 L142 357.88 L143 359.54 L144 360.97 L145 362.21 L146 363.28 L147 364.21 L148 365.02 L149 365.74 L150 366.38 L151 366.94 L152 367.45 L153 367.91 L154 368.32 L155 368.7 L156 369.03 L157 369.34 L158 369.61 L159 369.85 L160 370.07 L161 370.26 L162 370.44 L163 370.59 L164 370.72 L165 370.84 L166 370.95 L167 371.05 L168 371.14 L169 371.23 L170 371.31 L171 371.4 L172 371.51 L173 371.62 L174 371.75 L175 371.89 L176 372.04 L177 372.2 L178 372.37 L179 372.56 L180 372.76 L181 372.96 L182 373.18 L183 373.4 L184 373.62 L185 373.85 L186 374.09 L187 374.32 L188 374.56 L189 374.79 L190 375.02 L191 375.24 L192 375.45 L193 375.66 L194 375.85 L195 376.03 L196 376.19 L197 376.33 L198 376.46 L199 376.56 L200 376.64 L201 376.69 L202 376.72 L203 376.72 L204 376.69 L205 376.63 L206 376.55 L207 376.43 L208 376.3 L209 376.14 L210 375.95 L211 375.75 L212 375.53 L213 375.31 L214 375.07 L215 374.84 L216 374.61 L217 374.38 L218 374.17 L219 373.98 L220 373.82 L221 373.68 L222 373.58 L223 373.51 L224 373.48 L225 373.48 L226 373.53 L227 373.62 L228 373.75 L229 373.91 L230 374.11 L231 374.33 L232 374.59 L233 374.86 L234 375.16 L235 375.46 L236 375.78 L237 376.09 L238 376.41 L239 376.72 L240 377.02 L241 377.31 L242 377.59 L243 377.85 L244 378.09 L245 378.32 L246 378.52 L247 378.7 L248 378.87 L249 379.02 L250 379.15 L251 379.26 L252 379.36 L253 379.45 L254 379.52 L254 379.52" fill="none" stroke="#ff2020" stroke-width="1.7" stroke-linejoin="round" stroke-linecap="round"/>
<path d="M30 379.93 L31 379.93 L32 379.93 L33 379.93 L34 379.92 L35 379.92 L36 379.92 L37 379.92 L38 379.92 L39 379.92 L40 379.91 L41 379.91 L42 379.91 L43 379.91 L44 379.9 L45 379.9 L46 379.9 L47 379.9 L48 379.89 L49 379.89 L50 379.89 L51 379.88 L52 379.88 L53 379.88 L54 379.87 L55 379.87 L56 379.87 L57 379.86 L58 379.86 L59 379.85 L60 379.85 L61 379.84 L62 379.84 L63 379.83 L64 379.83 L65 379.82 L66 379.81 L67 379.81 L68 379.8 L69 379.79 L70 379.79 L71 379.78 L72 379.77 L73 379.76 L74 379.75 L75 379.74 L76 379.73 L77 379.71 L78 379.7 L79 379.68 L80 379.66 L81 379.64 L82 379.62 L83 379.58 L84 379.54 L85 379.49 L86 379.43 L87 379.35 L88 379.24 L89 379.09 L90 378.9 L91 378.65 L92 378.33 L93 377.91 L94 377.38 L95 376.7 L96 375.84 L97 374.78 L98 373.46 L99 371.87 L100 369.95 L101 367.67 L102 365.01 L103 361.92 L104 358.4 L105 354.45 L106 350.07 L107 345.29 L108 340.15 L109 334.73 L110 329.11 L111 323.38 L112 317.68 L113 312.14 L114 306.89 L115 302.09 L116 297.88 L117 294.4 L118 291.75 L119 290.04 L120 289.32 L121 289.63 L122 290.95 L123 293.23 L124 296.39 L125 300.33 L126 304.91 L127 310 L128 315.44 L129 321.09 L130 326.82 L131 332.5 L132 338.01 L133 343.27 L134 348.2 L135 352.75 L136 356.87 L137 360.57 L138 363.82 L139 366.65 L140 369.08 L141 371.14 L142 372.86 L143 374.28 L144 375.44 L145 376.38 L146 377.13 L147 377.72 L148 378.18 L149 378.54 L150 378.81 L151 379.02 L152 379.18 L153 379.31 L154 379.4 L155 379.47 L156 379.53 L157 379.57 L158 379.6 L159 379.63 L160 379.65 L161 379.67 L162 379.69 L163 379.71 L164 379.72 L165 379.73 L166 379.74 L167 379.75 L168 379.76 L169 379.77 L170 379.78 L171 379.79 L172 379.8 L173 379.81 L174 379.81 L175 379.82 L176 379.82 L177 379.83 L178 379.84 L179 379.84 L180 379.85 L181 379.85 L182 379.86 L183 379.86 L184 379.86 L185 379.87 L186 379.87 L187 379.88 L188 379.88 L189 379.88 L190 379.89 L191 379.89 L192 379.89 L193 379.9 L194 379.9 L195 379.9 L196 379.9 L197 379.91 L198 379.91 L199 379.91 L200 379.91 L201 379.91 L202 379.92 L203 379.92 L204 379.92 L205 379.92 L206 379.92 L207 379.93 L208 379.93 L209 379.93 L210 379.93 L211 379.93 L212 379.93 L213 379.94 L214 379.94 L215 379.94 L216 379.94 L217 379.94 L218 379.94 L219 379.94 L220 379.94 L221 379.94 L222 379.95 L223 379.95 L224 379.95 L225 379.95 L226 379.95 L227 379.95 L228 379.95 L229 379.95 L230 379.95 L231 379.95 L232 379.96 L233 379.96 L234 379.96 L235 379.96 L236 379.96 L237 379.96 L238 379.96 L239 379.96 L240 379.96 L241 379.96 L242 379.96 L243 379.96 L244 379.96 L245 379.96 L246 379.96 L247 379.96 L248 379.97 L249 379.97 L250 379.97 L251 379.97 L252 379.97 L253 379.97 L254 379.97 L254 379.97" fill="none" stroke="#20a0a0" stroke-width="1.6" stroke-linejoin="round" stroke-linecap="round"/>
<path d="M30 380.32 L31 380.32 L32 380.32 L33 380.32 L34 380.31 L35 380.31 L36 380.31 L37 380.31 L38 380.3 L39 380.3 L40 380.3 L41 380.3 L42 380.29 L43 380.29 L44 380.29 L45 380.28 L46 380.28 L47 380.27 L48 380.27 L49 380.27 L50 380.26 L51 380.26 L52 380.25 L53 380.25 L54 380.24 L55 380.24 L56 380.23 L57 380.22 L58 380.22 L59 380.21 L60 380.2 L61 380.19 L62 380.18 L63 380.17 L64 380.16 L65 380.15 L66 380.14 L67 380.12 L68 380.1 L69 380.08 L70 380.05 L71 380.02 L72 379.97 L73 379.92 L74 379.85 L75 379.75 L76 379.63 L77 379.46 L78 379.25 L79 378.97 L80 378.6 L81 378.14 L82 377.56 L83 376.82 L84 375.91 L85 374.78 L86 373.42 L87 371.78 L88 369.85 L89 367.59 L90 364.98 L91 362.02 L92 358.69 L93 355.02 L94 351.03 L95 346.75 L96 342.25 L97 337.6 L98 332.89 L99 328.22 L100 323.7 L101 319.45 L102 315.59 L103 312.23 L104 309.5 L105 307.47 L106 306.22 L107 305.8 L108 306.22 L109 307.47 L110 309.5 L111 312.23 L112 315.59 L113 319.45 L114 323.7 L115 328.22 L116 332.89 L117 337.6 L118 342.25 L119 346.75 L120 351.03 L121 355.02 L122 358.69 L123 362.02 L124 364.98 L125 367.59 L126 369.85 L127 371.78 L128 373.42 L129 374.78 L130 375.91 L131 376.82 L132 377.56 L133 378.14 L134 378.6 L135 378.97 L136 379.25 L137 379.46 L138 379.63 L139 379.75 L140 379.85 L141 379.92 L142 379.97 L143 380.02 L144 380.05 L145 380.08 L146 380.1 L147 380.12 L148 380.14 L149 380.15 L150 380.16 L151 380.17 L152 380.18 L153 380.19 L154 380.2 L155 380.21 L156 380.22 L157 380.22 L158 380.23 L159 380.24 L160 380.24 L161 380.25 L162 380.25 L163 380.26 L164 380.26 L165 380.27 L166 380.27 L167 380.27 L168 380.28 L169 380.28 L170 380.29 L171 380.29 L172 380.29 L173 380.3 L174 380.3 L175 380.3 L176 380.3 L177 380.31 L178 380.31 L179 380.31 L180 380.31 L181 380.32 L182 380.32 L183 380.32 L184 380.32 L185 380.32 L186 380.33 L187 380.33 L188 380.33 L189 380.33 L190 380.33 L191 380.34 L192 380.34 L193 380.34 L194 380.34 L195 380.34 L196 380.34 L197 380.34 L198 380.34 L199 380.35 L200 380.35 L201 380.35 L202 380.35 L203 380.35 L204 380.35 L205 380.35 L206 380.35 L207 380.35 L208 380.35 L209 380.36 L210 380.36 L211 380.36 L212 380.36 L213 380.36 L214 380.36 L215 380.36 L216 380.36 L217 380.36 L218 380.36 L219 380.36 L220 380.36 L221 380.36 L222 380.37 L223 380.37 L224 380.37 L225 380.37 L226 380.37 L227 380.37 L228 380.37 L229 380.37 L230 380.37 L231 380.37 L232 380.37 L233 380.37 L234 380.37 L235 380.37 L236 380.37 L237 380.37 L238 380.37 L239 380.37 L240 380.37 L241 380.37 L242 380.37 L243 380.37 L244 380.38 L245 380.38 L246 380.38 L247 380.38 L248 380.38 L249 380.38 L250 380.38 L251 380.38 L252 380.38 L253 380.38 L254 380.38 L254 380.38" fill="none" stroke="#2a2aff" stroke-width="1.6" stroke-linejoin="round" stroke-linecap="round"/>
<path d="M30 380.5 L31 380.5 L32 380.5 L33 380.5 L34 380.5 L35 380.5 L36 380.5 L37 380.5 L38 380.5 L39 380.5 L40 380.5 L41 380.5 L42 380.5 L43 380.5 L44 380.5 L45 380.5 L46 380.5 L47 380.5 L48 380.5 L49 380.5 L50 380.5 L51 380.5 L52 380.5 L53 380.5 L54 380.5 L55 380.5 L56 380.5 L57 380.5 L58 380.5 L59 380.5 L60 380.5 L61 380.5 L62 380.5 L63 380.5 L64 380.5 L65 380.5 L66 380.5 L67 380.5 L68 380.5 L69 380.5 L70 380.5 L71 380.5 L72 380.5 L73 380.5 L74 380.5 L75 380.5 L76 380.5 L77 380.5 L78 380.5 L79 380.5 L80 380.5 L81 380.5 L82 380.5 L83 380.5 L84 380.5 L85 380.5 L86 380.5 L87 380.5 L88 380.49 L89 380.49 L90 380.49 L91 380.48 L92 380.48 L93 380.47 L94 380.46 L95 380.45 L96 380.44 L97 380.42 L98 380.4 L99 380.37 L100 380.34 L101 380.3 L102 380.25 L103 380.18 L104 380.11 L105 380.02 L106 379.92 L107 379.79 L108 379.65 L109 379.49 L110 379.3 L111 379.08 L112 378.84 L113 378.56 L114 378.26 L115 377.92 L116 377.56 L117 377.16 L118 376.73 L119 376.28 L120 375.8 L121 375.3 L122 374.78 L123 374.25 L124 373.72 L125 373.19 L126 372.67 L127 372.16 L128 371.68 L129 371.22 L130 370.81 L131 370.45 L132 370.13 L133 369.88 L134 369.68 L135 369.56 L136 369.5 L137 369.52 L138 369.6 L139 369.75 L140 369.97 L141 370.25 L142 370.59 L143 370.97 L144 371.4 L145 371.87 L146 372.36 L147 372.87 L148 373.4 L149 373.93 L150 374.47 L151 374.99 L152 375.5 L153 375.99 L154 376.46 L155 376.91 L156 377.32 L157 377.71 L158 378.06 L159 378.39 L160 378.68 L161 378.94 L162 379.17 L163 379.38 L164 379.56 L165 379.71 L166 379.85 L167 379.96 L168 380.06 L169 380.14 L170 380.21 L171 380.27 L172 380.31 L173 380.35 L174 380.38 L175 380.41 L176 380.43 L177 380.45 L178 380.46 L179 380.47 L180 380.48 L181 380.48 L182 380.49 L183 380.49 L184 380.49 L185 380.49 L186 380.5 L187 380.5 L188 380.5 L189 380.5 L190 380.5 L191 380.5 L192 380.5 L193 380.5 L194 380.5 L195 380.5 L196 380.5 L197 380.5 L198 380.5 L199 380.5 L200 380.5 L201 380.5 L202 380.5 L203 380.5 L204 380.5 L205 380.5 L206 380.5 L207 380.5 L208 380.5 L209 380.5 L210 380.5 L211 380.5 L212 380.5 L213 380.5 L214 380.5 L215 380.5 L216 380.5 L217 380.5 L218 380.5 L219 380.5 L220 380.5 L221 380.5 L222 380.5 L223 380.5 L224 380.5 L225 380.5 L226 380.5 L227 380.5 L228 380.5 L229 380.5 L230 380.5 L231 380.5 L232 380.5 L233 380.5 L234 380.5 L235 380.5 L236 380.5 L237 380.5 L238 380.5 L239 380.5 L240 380.5 L241 380.5 L242 380.5 L243 380.5 L244 380.5 L245 380.5 L246 380.5 L247 380.5 L248 380.5 L249 380.5 L250 380.5 L251 380.5 L252 380.5 L253 380.5 L254 380.5 L254 380.5" fill="none" stroke="#2020a0" stroke-width="1.6" stroke-linejoin="round" stroke-linecap="round"/>
<text x="246" y="240.5" font-size="11.74" text-anchor="end" fill="#1e1e1e" stroke="#1e1e1e" stroke-width="0.3">30 W, 10 min</text>
<text x="70" y="303.9" font-size="8.73" text-anchor="start" fill="#1e1e1e" stroke="#1e1e1e" stroke-width="0.3">C-Si</text>
<text x="60" y="315" font-size="8.73" text-anchor="start" fill="#1e1e1e" stroke="#1e1e1e" stroke-width="0.3">284.4 eV</text>
<text x="139.8" y="284.8" font-size="8.73" text-anchor="start" fill="#1e1e1e" stroke="#1e1e1e" stroke-width="0.3">C-Hx</text>
<text x="134.6" y="296.3" font-size="8.73" text-anchor="start" fill="#1e1e1e" stroke="#1e1e1e" stroke-width="0.3">285.0 eV</text>
<text x="149.2" y="334.6" font-size="8.73" text-anchor="start" fill="#1e1e1e" stroke="#1e1e1e" stroke-width="0.3">C-O</text>
<text x="142" y="346.1" font-size="8.73" text-anchor="start" fill="#1e1e1e" stroke="#1e1e1e" stroke-width="0.3">285.8 eV</text>
<text x="181.4" y="350.5" font-size="8.73" text-anchor="start" fill="#1e1e1e" stroke="#1e1e1e" stroke-width="0.3">C=O</text>
<text x="174" y="362" font-size="8.73" text-anchor="start" fill="#1e1e1e" stroke="#1e1e1e" stroke-width="0.3">287.1 eV</text>
<text x="219" y="354.1" font-size="8.73" text-anchor="start" fill="#1e1e1e" stroke="#1e1e1e" stroke-width="0.3">O=C-O</text>
<text x="216.6" y="365.8" font-size="8.73" text-anchor="start" fill="#1e1e1e" stroke="#1e1e1e" stroke-width="0.3">289.7 eV</text>
<path d="M91.3 304.2 L99.23 306.7" stroke="#111" stroke-width="1.2" fill="none"/>
<path d="M104 308.2 L98.6 308.7 L99.86 304.69 Z" fill="#111"/>
<path d="M136.5 286 L126.6 288.9" stroke="#111" stroke-width="1.2" fill="none"/>
<path d="M121.8 290.3 L126.01 286.88 L127.19 290.91 Z" fill="#111"/>
<path d="M152.5 349.9 L141.77 363.66" stroke="#111" stroke-width="1.2" fill="none"/>
<path d="M138.7 367.6 L140.12 362.37 L143.43 364.95 Z" fill="#111"/>
<path d="M178.3 363.6 L172.07 369.02" stroke="#111" stroke-width="1.2" fill="none"/>
<path d="M168.3 372.3 L170.69 367.43 L173.45 370.6 Z" fill="#111"/>
<path d="M231.3 366.1 L227.18 370.83" stroke="#111" stroke-width="1.2" fill="none"/>
<path d="M223.9 374.6 L225.6 369.45 L228.77 372.21 Z" fill="#111"/>
<rect x="328.5" y="223" width="214.5" height="171.2" fill="none" stroke="#8c8c8c" stroke-width="1.6"/>
<path d="M346.38 394.8 V398" stroke="#8a8a8a" stroke-width="1.1"/>
<path d="M382.12 394.8 V398" stroke="#8a8a8a" stroke-width="1.1"/>
<path d="M417.88 394.8 V398" stroke="#8a8a8a" stroke-width="1.1"/>
<path d="M453.62 394.8 V398" stroke="#8a8a8a" stroke-width="1.1"/>
<path d="M489.38 394.8 V398" stroke="#8a8a8a" stroke-width="1.1"/>
<path d="M525.12 394.8 V398" stroke="#8a8a8a" stroke-width="1.1"/>
<path d="M328.5 394.8 V396.6" stroke="#8a8a8a" stroke-width="1.1"/>
<path d="M364.25 394.8 V396.6" stroke="#8a8a8a" stroke-width="1.1"/>
<path d="M400 394.8 V396.6" stroke="#8a8a8a" stroke-width="1.1"/>
<path d="M435.75 394.8 V396.6" stroke="#8a8a8a" stroke-width="1.1"/>
<path d="M471.5 394.8 V396.6" stroke="#8a8a8a" stroke-width="1.1"/>
<path d="M507.25 394.8 V396.6" stroke="#8a8a8a" stroke-width="1.1"/>
<path d="M543 394.8 V396.6" stroke="#8a8a8a" stroke-width="1.1"/>
<text x="346.38" y="407.4" font-size="8.92" text-anchor="middle" fill="#1e1e1e" stroke="#1e1e1e" stroke-width="0.3">98</text>
<text x="382.12" y="407.4" font-size="8.92" text-anchor="middle" fill="#1e1e1e" stroke="#1e1e1e" stroke-width="0.3">100</text>
<text x="417.88" y="407.4" font-size="8.92" text-anchor="middle" fill="#1e1e1e" stroke="#1e1e1e" stroke-width="0.3">102</text>
<text x="453.62" y="407.4" font-size="8.92" text-anchor="middle" fill="#1e1e1e" stroke="#1e1e1e" stroke-width="0.3">104</text>
<text x="489.38" y="407.4" font-size="8.92" text-anchor="middle" fill="#1e1e1e" stroke="#1e1e1e" stroke-width="0.3">106</text>
<text x="525.12" y="407.4" font-size="8.92" text-anchor="middle" fill="#1e1e1e" stroke="#1e1e1e" stroke-width="0.3">108</text>
<text x="440.4" y="421.8" font-size="10.04" text-anchor="middle" fill="#1e1e1e" stroke="#1e1e1e" stroke-width="0.3">Binding energy (eV)</text>
<text transform="translate(317.8 311.8) rotate(-90)" font-size="10.8" text-anchor="middle" fill="#1e1e1e" stroke="#1e1e1e" stroke-width="0.3">Intensity (a.u.)</text>
<text x="309" y="229" font-size="13.09" text-anchor="start" fill="#1e1e1e" stroke="#1e1e1e" stroke-width="0.3">(d)</text>
<path d="M328.5 380.4 L329.5 380.39 L330.5 380.39 L331.5 380.38 L332.5 380.37 L333.5 380.36 L334.5 380.35 L335.5 380.34 L336.5 380.33 L337.5 380.32 L338.5 380.3 L339.5 380.29 L340.5 380.27 L341.5 380.25 L342.5 380.22 L343.5 380.19 L344.5 380.16 L345.5 380.12 L346.5 380.08 L347.5 380.02 L348.5 379.96 L349.5 379.89 L350.5 379.81 L351.5 379.72 L352.5 379.62 L353.5 379.5 L354.5 379.38 L355.5 379.24 L356.5 379.09 L357.5 378.92 L358.5 378.75 L359.5 378.57 L360.5 378.38 L361.5 378.19 L362.5 378 L363.5 377.8 L364.5 377.62 L365.5 377.44 L366.5 377.27 L367.5 377.11 L368.5 376.98 L369.5 376.86 L370.5 376.76 L371.5 376.69 L372.5 376.65 L373.5 376.63 L374.5 376.64 L375.5 376.67 L376.5 376.73 L377.5 376.8 L378.5 376.9 L379.5 377 L380.5 377.12 L381.5 377.23 L382.5 377.35 L383.5 377.45 L384.5 377.53 L385.5 377.58 L386.5 377.6 L387.5 377.56 L388.5 377.46 L389.5 377.27 L390.5 376.98 L391.5 376.57 L392.5 376.02 L393.5 375.29 L394.5 374.35 L395.5 373.17 L396.5 371.72 L397.5 369.95 L398.5 367.83 L399.5 365.32 L400.5 362.37 L401.5 358.96 L402.5 355.06 L403.5 350.65 L404.5 345.7 L405.5 340.24 L406.5 334.26 L407.5 327.81 L408.5 320.92 L409.5 313.67 L410.5 306.13 L411.5 298.39 L412.5 290.59 L413.5 282.83 L414.5 275.25 L415.5 267.99 L416.5 261.19 L417.5 254.98 L418.5 249.48 L419.5 244.81 L420.5 241.04 L421.5 238.25 L422.5 236.48 L423.5 235.89 L424.5 236.5 L425.5 238.24 L426.5 240.99 L427.5 244.62 L428.5 248.97 L429.5 253.88 L430.5 259.17 L431.5 264.68 L432.5 270.25 L433.5 275.76 L434.5 281.09 L435.5 286.15 L436.5 290.88 L437.5 295.24 L438.5 299.23 L439.5 302.84 L440.5 306.12 L441.5 309.08 L442.5 311.79 L443.5 314.3 L444.5 316.66 L445.5 318.92 L446.5 321.1 L447.5 323.24 L448.5 325.4 L449.5 327.58 L450.5 329.81 L451.5 332.1 L452.5 334.44 L453.5 336.84 L454.5 339.29 L455.5 341.76 L456.5 344.25 L457.5 346.74 L458.5 349.2 L459.5 351.63 L460.5 353.98 L461.5 356.27 L462.5 358.45 L463.5 360.53 L464.5 362.5 L465.5 364.34 L466.5 366.04 L467.5 367.61 L468.5 369.05 L469.5 370.35 L470.5 371.52 L471.5 372.57 L472.5 373.49 L473.5 374.29 L474.5 374.99 L475.5 375.59 L476.5 376.09 L477.5 376.52 L478.5 376.87 L479.5 377.15 L480.5 377.38 L481.5 377.57 L482.5 377.71 L483.5 377.83 L484.5 377.93 L485.5 378 L486.5 378.07 L487.5 378.14 L488.5 378.2 L489.5 378.27 L490.5 378.34 L491.5 378.41 L492.5 378.49 L493.5 378.56 L494.5 378.64 L495.5 378.72 L496.5 378.8 L497.5 378.88 L498.5 378.95 L499.5 379.01 L500.5 379.07 L501.5 379.12 L502.5 379.16 L503.5 379.2 L504.5 379.23 L505.5 379.26 L506.5 379.29 L507.5 379.31 L508.5 379.33 L509.5 379.34 L510.5 379.37 L511.5 379.39 L512.5 379.42 L513.5 379.45 L514.5 379.49 L515.5 379.55 L516.5 379.61 L517.5 379.68 L518.5 379.77 L519.5 379.87 L520.5 379.98 L521.5 380.11 L522.5 380.24 L523.5 380.38 L524.5 380.52 L525.5 380.66 L526.5 380.79 L527.5 380.91 L528.5 381.01 L529.5 381.09 L530.5 381.14 L531.5 381.17 L532.5 381.16 L533.5 381.13 L534.5 381.07 L535.5 380.98 L536.5 380.87 L537.5 380.75 L538.5 380.61 L539.5 380.46 L540.5 380.32 L541.5 380.17 L542.5 380.03 L543 379.96" fill="none" stroke="#111" stroke-width="1.3" stroke-linejoin="round" stroke-linecap="round"/>
<path d="M328.5 380.4 L329.5 380.39 L330.5 380.39 L331.5 380.38 L332.5 380.37 L333.5 380.36 L334.5 380.35 L335.5 380.34 L336.5 380.33 L337.5 380.32 L338.5 380.3 L339.5 380.29 L340.5 380.27 L341.5 380.25 L342.5 380.22 L343.5 380.19 L344.5 380.16 L345.5 380.12 L346.5 380.08 L347.5 380.02 L348.5 379.96 L349.5 379.89 L350.5 379.81 L351.5 379.72 L352.5 379.62 L353.5 379.5 L354.5 379.38 L355.5 379.24 L356.5 379.09 L357.5 378.92 L358.5 378.75 L359.5 378.57 L360.5 378.38 L361.5 378.19 L362.5 378 L363.5 377.8 L364.5 377.62 L365.5 377.44 L366.5 377.27 L367.5 377.11 L368.5 376.98 L369.5 376.86 L370.5 376.76 L371.5 376.69 L372.5 376.65 L373.5 376.63 L374.5 376.64 L375.5 376.67 L376.5 376.73 L377.5 376.8 L378.5 376.9 L379.5 377 L380.5 377.12 L381.5 377.23 L382.5 377.35 L383.5 377.45 L384.5 377.53 L385.5 377.58 L386.5 377.6 L387.5 377.56 L388.5 377.46 L389.5 377.27 L390.5 376.98 L391.5 376.57 L392.5 376.02 L393.5 375.29 L394.5 374.35 L395.5 373.17 L396.5 371.72 L397.5 369.95 L398.5 367.83 L399.5 365.32 L400.5 362.37 L401.5 358.96 L402.5 355.06 L403.5 350.65 L404.5 345.7 L405.5 340.24 L406.5 334.26 L407.5 327.81 L408.5 320.92 L409.5 313.67 L410.5 306.13 L411.5 298.39 L412.5 290.59 L413.5 282.83 L414.5 275.25 L415.5 267.99 L416.5 261.19 L417.5 254.98 L418.5 249.48 L419.5 244.81 L420.5 241.04 L421.5 238.25 L422.5 236.48 L423.5 235.89 L424.5 236.5 L425.5 238.24 L426.5 240.99 L427.5 244.62 L428.5 248.97 L429.5 253.88 L430.5 259.17 L431.5 264.68 L432.5 270.25 L433.5 275.76 L434.5 281.09 L435.5 286.15 L436.5 290.88 L437.5 295.24 L438.5 299.23 L439.5 302.84 L440.5 306.12 L441.5 309.08 L442.5 311.79 L443.5 314.3 L444.5 316.66 L445.5 318.92 L446.5 321.1 L447.5 323.24 L448.5 325.4 L449.5 327.58 L450.5 329.81 L451.5 332.1 L452.5 334.44 L453.5 336.84 L454.5 339.29 L455.5 341.76 L456.5 344.25 L457.5 346.74 L458.5 349.21 L459.5 351.63 L460.5 353.99 L461.5 356.27 L462.5 358.46 L463.5 360.54 L464.5 362.51 L465.5 364.35 L466.5 366.07 L467.5 367.65 L468.5 369.1 L469.5 370.42 L470.5 371.61 L471.5 372.67 L472.5 373.63 L473.5 374.47 L474.5 375.21 L475.5 375.85 L476.5 376.41 L477.5 376.9 L478.5 377.31 L479.5 377.66 L480.5 377.96 L481.5 378.21 L482.5 378.42 L483.5 378.6 L484.5 378.74 L485.5 378.86 L486.5 378.96 L487.5 379.04 L488.5 379.1 L489.5 379.15 L490.5 379.19 L491.5 379.23 L492.5 379.25 L493.5 379.27 L494.5 379.29 L495.5 379.3 L496.5 379.31 L497.5 379.32 L498.5 379.33 L499.5 379.33 L500.5 379.33 L501.5 379.33 L502.5 379.34 L503.5 379.34 L504.5 379.34 L505.5 379.34 L506.5 379.34 L507.5 379.34 L508.5 379.33 L509.5 379.33 L510.5 379.33 L511.5 379.33 L512.5 379.33 L513.5 379.33 L514.5 379.32 L515.5 379.32 L516.5 379.32 L517.5 379.32 L518.5 379.31 L519.5 379.31 L520.5 379.31 L521.5 379.31 L522.5 379.3 L523.5 379.3 L524.5 379.3 L525.5 379.29 L526.5 379.29 L527.5 379.29 L528.5 379.28 L529.5 379.28 L530.5 379.28 L531.5 379.27 L532.5 379.27 L533.5 379.26 L534.5 379.26 L535.5 379.26 L536.5 379.25 L537.5 379.25 L538.5 379.24 L539.5 379.24 L540.5 379.24 L541.5 379.23 L542.5 379.23 L543 379.23" fill="none" stroke="#ff2020" stroke-width="1.6" stroke-linejoin="round" stroke-linecap="round"/>
<path d="M328.5 380.57 L329.5 380.57 L330.5 380.56 L331.5 380.56 L332.5 380.55 L333.5 380.54 L334.5 380.54 L335.5 380.53 L336.5 380.52 L337.5 380.52 L338.5 380.51 L339.5 380.51 L340.5 380.5 L341.5 380.49 L342.5 380.49 L343.5 380.48 L344.5 380.48 L345.5 380.47 L346.5 380.46 L347.5 380.46 L348.5 380.45 L349.5 380.44 L350.5 380.44 L351.5 380.43 L352.5 380.42 L353.5 380.42 L354.5 380.41 L355.5 380.4 L356.5 380.4 L357.5 380.39 L358.5 380.38 L359.5 380.38 L360.5 380.37 L361.5 380.36 L362.5 380.36 L363.5 380.35 L364.5 380.34 L365.5 380.34 L366.5 380.33 L367.5 380.32 L368.5 380.32 L369.5 380.31 L370.5 380.3 L371.5 380.29 L372.5 380.29 L373.5 380.28 L374.5 380.27 L375.5 380.26 L376.5 380.26 L377.5 380.25 L378.5 380.24 L379.5 380.23 L380.5 380.23 L381.5 380.22 L382.5 380.21 L383.5 380.2 L384.5 380.19 L385.5 380.18 L386.5 380.17 L387.5 380.16 L388.5 380.15 L389.5 380.14 L390.5 380.13 L391.5 380.12 L392.5 380.1 L393.5 380.09 L394.5 380.07 L395.5 380.05 L396.5 380.03 L397.5 380 L398.5 379.97 L399.5 379.93 L400.5 379.89 L401.5 379.83 L402.5 379.76 L403.5 379.68 L404.5 379.58 L405.5 379.46 L406.5 379.31 L407.5 379.13 L408.5 378.91 L409.5 378.65 L410.5 378.34 L411.5 377.98 L412.5 377.55 L413.5 377.04 L414.5 376.45 L415.5 375.77 L416.5 374.99 L417.5 374.1 L418.5 373.08 L419.5 371.95 L420.5 370.67 L421.5 369.26 L422.5 367.71 L423.5 366.02 L424.5 364.19 L425.5 362.22 L426.5 360.13 L427.5 357.92 L428.5 355.61 L429.5 353.22 L430.5 350.77 L431.5 348.29 L432.5 345.8 L433.5 343.33 L434.5 340.92 L435.5 338.61 L436.5 336.42 L437.5 334.39 L438.5 332.56 L439.5 330.95 L440.5 329.6 L441.5 328.52 L442.5 327.75 L443.5 327.29 L444.5 327.15 L445.5 327.33 L446.5 327.8 L447.5 328.57 L448.5 329.61 L449.5 330.91 L450.5 332.44 L451.5 334.18 L452.5 336.11 L453.5 338.19 L454.5 340.39 L455.5 342.68 L456.5 345.03 L457.5 347.42 L458.5 349.8 L459.5 352.16 L460.5 354.48 L461.5 356.72 L462.5 358.88 L463.5 360.95 L464.5 362.89 L465.5 364.72 L466.5 366.42 L467.5 367.99 L468.5 369.43 L469.5 370.74 L470.5 371.92 L471.5 372.98 L472.5 373.92 L473.5 374.76 L474.5 375.49 L475.5 376.13 L476.5 376.68 L477.5 377.16 L478.5 377.57 L479.5 377.92 L480.5 378.21 L481.5 378.46 L482.5 378.66 L483.5 378.83 L484.5 378.97 L485.5 379.09 L486.5 379.18 L487.5 379.26 L488.5 379.32 L489.5 379.37 L490.5 379.4 L491.5 379.43 L492.5 379.46 L493.5 379.47 L494.5 379.49 L495.5 379.5 L496.5 379.51 L497.5 379.51 L498.5 379.51 L499.5 379.52 L500.5 379.52 L501.5 379.52 L502.5 379.52 L503.5 379.51 L504.5 379.51 L505.5 379.51 L506.5 379.51 L507.5 379.51 L508.5 379.5 L509.5 379.5 L510.5 379.5 L511.5 379.49 L512.5 379.49 L513.5 379.49 L514.5 379.48 L515.5 379.48 L516.5 379.48 L517.5 379.47 L518.5 379.47 L519.5 379.47 L520.5 379.46 L521.5 379.46 L522.5 379.45 L523.5 379.45 L524.5 379.45 L525.5 379.44 L526.5 379.44 L527.5 379.43 L528.5 379.43 L529.5 379.42 L530.5 379.42 L531.5 379.41 L532.5 379.41 L533.5 379.41 L534.5 379.4 L535.5 379.4 L536.5 379.39 L537.5 379.39 L538.5 379.38 L539.5 379.38 L540.5 379.37 L541.5 379.37 L542.5 379.36 L543 379.36" fill="none" stroke="#2a2aff" stroke-width="1.6" stroke-linejoin="round" stroke-linecap="round"/>
<path d="M328.5 381.33 L329.5 381.32 L330.5 381.32 L331.5 381.31 L332.5 381.3 L333.5 381.29 L334.5 381.29 L335.5 381.28 L336.5 381.27 L337.5 381.26 L338.5 381.26 L339.5 381.25 L340.5 381.24 L341.5 381.23 L342.5 381.23 L343.5 381.22 L344.5 381.21 L345.5 381.2 L346.5 381.19 L347.5 381.18 L348.5 381.18 L349.5 381.17 L350.5 381.16 L351.5 381.15 L352.5 381.14 L353.5 381.13 L354.5 381.12 L355.5 381.11 L356.5 381.1 L357.5 381.09 L358.5 381.08 L359.5 381.07 L360.5 381.06 L361.5 381.05 L362.5 381.04 L363.5 381.03 L364.5 381.02 L365.5 381.01 L366.5 381 L367.5 380.98 L368.5 380.97 L369.5 380.96 L370.5 380.94 L371.5 380.93 L372.5 380.91 L373.5 380.9 L374.5 380.88 L375.5 380.86 L376.5 380.84 L377.5 380.82 L378.5 380.79 L379.5 380.76 L380.5 380.72 L381.5 380.67 L382.5 380.61 L383.5 380.53 L384.5 380.43 L385.5 380.31 L386.5 380.15 L387.5 379.95 L388.5 379.69 L389.5 379.36 L390.5 378.94 L391.5 378.4 L392.5 377.74 L393.5 376.91 L394.5 375.9 L395.5 374.65 L396.5 373.15 L397.5 371.34 L398.5 369.19 L399.5 366.67 L400.5 363.73 L401.5 360.34 L402.5 356.47 L403.5 352.12 L404.5 347.25 L405.5 341.89 L406.5 336.05 L407.5 329.76 L408.5 323.08 L409.5 316.07 L410.5 308.83 L411.5 301.46 L412.5 294.08 L413.5 286.82 L414.5 279.82 L415.5 273.24 L416.5 267.21 L417.5 261.89 L418.5 257.39 L419.5 253.85 L420.5 251.35 L421.5 249.96 L422.5 249.74 L423.5 250.83 L424.5 253.27 L425.5 256.97 L426.5 261.81 L427.5 267.65 L428.5 274.3 L429.5 281.59 L430.5 289.33 L431.5 297.31 L432.5 305.37 L433.5 313.34 L434.5 321.07 L435.5 328.44 L436.5 335.36 L437.5 341.74 L438.5 347.56 L439.5 352.77 L440.5 357.39 L441.5 361.43 L442.5 364.91 L443.5 367.87 L444.5 370.36 L445.5 372.43 L446.5 374.13 L447.5 375.51 L448.5 376.62 L449.5 377.5 L450.5 378.19 L451.5 378.73 L452.5 379.14 L453.5 379.45 L454.5 379.69 L455.5 379.87 L456.5 380.01 L457.5 380.1 L458.5 380.18 L459.5 380.23 L460.5 380.27 L461.5 380.3 L462.5 380.33 L463.5 380.34 L464.5 380.36 L465.5 380.37 L466.5 380.37 L467.5 380.38 L468.5 380.38 L469.5 380.39 L470.5 380.39 L471.5 380.4 L472.5 380.4 L473.5 380.4 L474.5 380.4 L475.5 380.4 L476.5 380.4 L477.5 380.4 L478.5 380.4 L479.5 380.4 L480.5 380.4 L481.5 380.4 L482.5 380.4 L483.5 380.4 L484.5 380.4 L485.5 380.4 L486.5 380.39 L487.5 380.39 L488.5 380.39 L489.5 380.39 L490.5 380.38 L491.5 380.38 L492.5 380.38 L493.5 380.38 L494.5 380.37 L495.5 380.37 L496.5 380.37 L497.5 380.36 L498.5 380.36 L499.5 380.36 L500.5 380.35 L501.5 380.35 L502.5 380.35 L503.5 380.34 L504.5 380.34 L505.5 380.34 L506.5 380.33 L507.5 380.33 L508.5 380.32 L509.5 380.32 L510.5 380.32 L511.5 380.31 L512.5 380.31 L513.5 380.3 L514.5 380.3 L515.5 380.29 L516.5 380.29 L517.5 380.29 L518.5 380.28 L519.5 380.28 L520.5 380.27 L521.5 380.27 L522.5 380.26 L523.5 380.26 L524.5 380.25 L525.5 380.25 L526.5 380.24 L527.5 380.24 L528.5 380.24 L529.5 380.23 L530.5 380.23 L531.5 380.22 L532.5 380.22 L533.5 380.21 L534.5 380.21 L535.5 380.2 L536.5 380.2 L537.5 380.19 L538.5 380.19 L539.5 380.18 L540.5 380.18 L541.5 380.17 L542.5 380.17 L543 380.16" fill="none" stroke="#20a0a0" stroke-width="1.6" stroke-linejoin="round" stroke-linecap="round"/>
<path d="M328.5 380.2 L329.5 380.19 L330.5 380.19 L331.5 380.18 L332.5 380.17 L333.5 380.17 L334.5 380.16 L335.5 380.15 L336.5 380.14 L337.5 380.13 L338.5 380.12 L339.5 380.11 L340.5 380.09 L341.5 380.07 L342.5 380.05 L343.5 380.03 L344.5 380 L345.5 379.96 L346.5 379.92 L347.5 379.87 L348.5 379.81 L349.5 379.75 L350.5 379.67 L351.5 379.58 L352.5 379.48 L353.5 379.37 L354.5 379.25 L355.5 379.12 L356.5 378.97 L357.5 378.81 L358.5 378.65 L359.5 378.47 L360.5 378.29 L361.5 378.1 L362.5 377.92 L363.5 377.73 L364.5 377.55 L365.5 377.38 L366.5 377.22 L367.5 377.07 L368.5 376.94 L369.5 376.83 L370.5 376.75 L371.5 376.69 L372.5 376.66 L373.5 376.65 L374.5 376.67 L375.5 376.72 L376.5 376.79 L377.5 376.89 L378.5 377.01 L379.5 377.14 L380.5 377.29 L381.5 377.46 L382.5 377.63 L383.5 377.8 L384.5 377.98 L385.5 378.15 L386.5 378.32 L387.5 378.49 L388.5 378.64 L389.5 378.79 L390.5 378.92 L391.5 379.05 L392.5 379.16 L393.5 379.26 L394.5 379.34 L395.5 379.42 L396.5 379.48 L397.5 379.54 L398.5 379.58 L399.5 379.62 L400.5 379.65 L401.5 379.68 L402.5 379.7 L403.5 379.71 L404.5 379.72 L405.5 379.73 L406.5 379.73 L407.5 379.73 L408.5 379.73 L409.5 379.73 L410.5 379.73 L411.5 379.73 L412.5 379.72 L413.5 379.72 L414.5 379.72 L415.5 379.71 L416.5 379.71 L417.5 379.7 L418.5 379.7 L419.5 379.69 L420.5 379.69 L421.5 379.68 L422.5 379.67 L423.5 379.67 L424.5 379.66 L425.5 379.66 L426.5 379.65 L427.5 379.65 L428.5 379.64 L429.5 379.63 L430.5 379.63 L431.5 379.62 L432.5 379.62 L433.5 379.61 L434.5 379.61 L435.5 379.6 L436.5 379.6 L437.5 379.59 L438.5 379.58 L439.5 379.58 L440.5 379.57 L441.5 379.57 L442.5 379.56 L443.5 379.56 L444.5 379.55 L445.5 379.55 L446.5 379.54 L447.5 379.53 L448.5 379.53 L449.5 379.52 L450.5 379.52 L451.5 379.51 L452.5 379.51 L453.5 379.5 L454.5 379.5 L455.5 379.49 L456.5 379.48 L457.5 379.48 L458.5 379.47 L459.5 379.47 L460.5 379.46 L461.5 379.46 L462.5 379.45 L463.5 379.44 L464.5 379.44 L465.5 379.43 L466.5 379.43 L467.5 379.42 L468.5 379.42 L469.5 379.41 L470.5 379.41 L471.5 379.4 L472.5 379.39 L473.5 379.39 L474.5 379.38 L475.5 379.38 L476.5 379.37 L477.5 379.37 L478.5 379.36 L479.5 379.36 L480.5 379.35 L481.5 379.34 L482.5 379.34 L483.5 379.33 L484.5 379.33 L485.5 379.32 L486.5 379.32 L487.5 379.31 L488.5 379.3 L489.5 379.3 L490.5 379.29 L491.5 379.29 L492.5 379.28 L493.5 379.28 L494.5 379.27 L495.5 379.27 L496.5 379.26 L497.5 379.25 L498.5 379.25 L499.5 379.24 L500.5 379.24 L501.5 379.23 L502.5 379.23 L503.5 379.22 L504.5 379.22 L505.5 379.21 L506.5 379.2 L507.5 379.2 L508.5 379.19 L509.5 379.19 L510.5 379.18 L511.5 379.18 L512.5 379.17 L513.5 379.17 L514.5 379.16 L515.5 379.15 L516.5 379.15 L517.5 379.14 L518.5 379.14 L519.5 379.13 L520.5 379.13 L521.5 379.12 L522.5 379.11 L523.5 379.11 L524.5 379.1 L525.5 379.1 L526.5 379.09 L527.5 379.09 L528.5 379.08 L529.5 379.08 L530.5 379.07 L531.5 379.06 L532.5 379.06 L533.5 379.05 L534.5 379.05 L535.5 379.04 L536.5 379.04 L537.5 379.03 L538.5 379.03 L539.5 379.02 L540.5 379.01 L541.5 379.01 L542.5 379 L543 379" fill="none" stroke="#ff00ff" stroke-width="1.4" stroke-linejoin="round" stroke-linecap="round"/>
<text x="500.5" y="239" font-size="8.92" text-anchor="start" fill="#1e1e1e" stroke="#1e1e1e" stroke-width="0.3">Pristine</text>
<text x="445.5" y="258.7" font-size="8.44" text-anchor="start" fill="#1e1e1e" stroke="#1e1e1e" stroke-width="0.3">O-Si-O</text>
<text x="444.2" y="269.8" font-size="8.44" text-anchor="start" fill="#1e1e1e" stroke="#1e1e1e" stroke-width="0.3">102.2 eV</text>
<text x="463.7" y="325" font-size="8.44" text-anchor="start" fill="#1e1e1e" stroke="#1e1e1e" stroke-width="0.3">Si-O<tspan font-size="4.8" dy="2.6">x</tspan></text>
<text x="459.8" y="339.2" font-size="8.44" text-anchor="start" fill="#1e1e1e" stroke="#1e1e1e" stroke-width="0.3">103.5 eV</text>
<text x="347.6" y="351.1" font-size="8.44" text-anchor="start" fill="#1e1e1e" stroke="#1e1e1e" stroke-width="0.3">Si-C<tspan font-size="4.8" dy="2.6">x</tspan></text>
<text x="340.7" y="365.7" font-size="8.44" text-anchor="start" fill="#1e1e1e" stroke="#1e1e1e" stroke-width="0.3">99.6 eV</text>
<path d="M440.5 256.3 L427.92 251.11" stroke="#111" stroke-width="1.2" fill="none"/>
<path d="M423.3 249.2 L428.72 249.17 L427.12 253.05 Z" fill="#111"/>
<path d="M460.7 325.7 L450.98 326.56" stroke="#111" stroke-width="1.2" fill="none"/>
<path d="M446 327 L450.8 324.47 L451.17 328.65 Z" fill="#111"/>
<path d="M366.5 369.4 L369.09 372.04" stroke="#111" stroke-width="1.2" fill="none"/>
<path d="M372.6 375.6 L367.6 373.51 L370.59 370.56 Z" fill="#111"/>
</svg>
</body></html>
